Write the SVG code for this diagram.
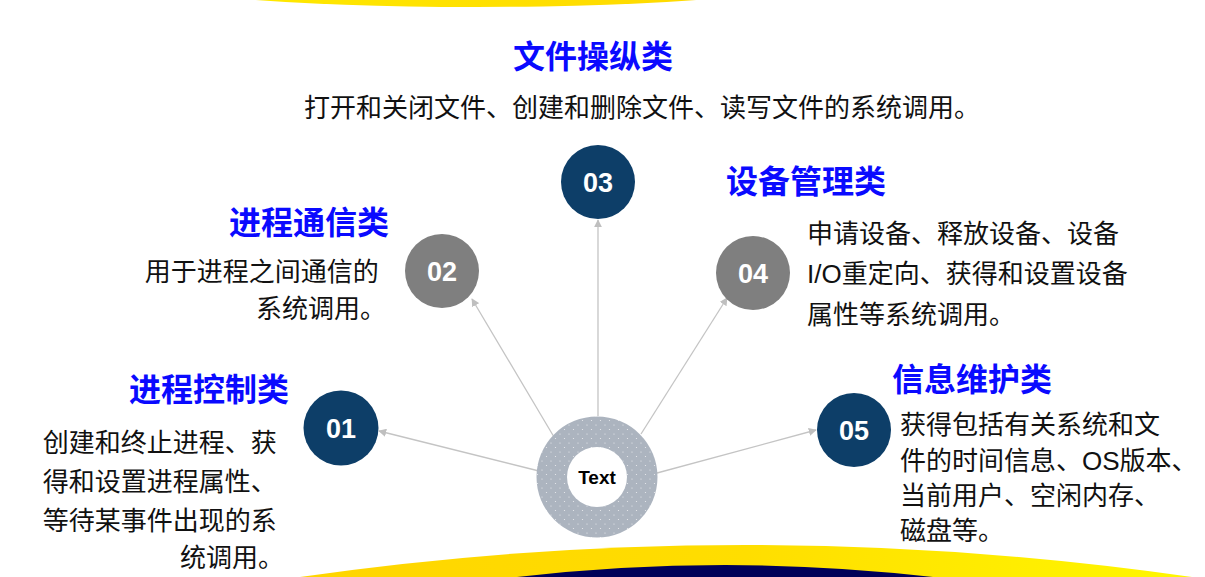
<svg xmlns="http://www.w3.org/2000/svg" width="1205" height="577" viewBox="0 0 1205 577">
<defs>
  <linearGradient id="gTop" x1="0" y1="0" x2="1" y2="0">
    <stop offset="0" stop-color="#ffec00"/>
    <stop offset="1" stop-color="#ffd600"/>
  </linearGradient>
  <linearGradient id="gBot" x1="0" y1="0" x2="1" y2="0">
    <stop offset="0" stop-color="#ffd500"/>
    <stop offset="0.5" stop-color="#ffde00"/>
    <stop offset="1" stop-color="#fff700"/>
  </linearGradient>
  <pattern id="dots" width="9" height="9" patternUnits="userSpaceOnUse">
    <rect width="9" height="9" fill="#acb4bf"/>
    <circle cx="2" cy="2" r="0.6" fill="#ffffff" opacity="0.75"/>
    <circle cx="6.5" cy="6.5" r="0.6" fill="#ffffff" opacity="0.75"/>
  </pattern>
  <marker id="arr" viewBox="0 0 10 10" refX="9" refY="5" markerWidth="8" markerHeight="8" orient="auto" markerUnits="userSpaceOnUse">
    <path d="M0,0 L10,5 L0,10 Z" fill="#bfbfbf"/>
  </marker>
  <style>
    .title{font-family:"Liberation Sans","Noto Sans CJK SC",sans-serif;font-weight:bold;font-size:32px;fill:#0a0aff;}
    .desc{font-family:"Liberation Sans","Noto Sans CJK SC",sans-serif;font-size:26px;fill:#111111;}
    .num{font-family:"Liberation Sans",Arial,sans-serif;font-weight:bold;font-size:27px;fill:#ffffff;text-anchor:middle;}
    .navy{fill:#0d3e68;}
    .grey{fill:#7f7f7f;}
    .conn{stroke:#c4c4c4;stroke-width:1.3;fill:none;marker-end:url(#arr);}
  </style>
</defs>
<rect width="1205" height="577" fill="#ffffff"/>

<g id="decor">
  <ellipse cx="476" cy="-23" rx="343" ry="30" fill="url(#gTop)"/>
  <path d="M300 577 Q 745 513 1192 577 Z" fill="url(#gBot)"/>
  <path d="M517 577 Q 725 553 933 577 Z" fill="#000058"/>
</g>

<g id="connectors">
  <line class="conn" x1="539" y1="471" x2="379" y2="431"/>
  <line class="conn" x1="554" y1="437" x2="472" y2="299"/>
  <line class="conn" x1="598" y1="416" x2="598" y2="220"/>
  <line class="conn" x1="641" y1="434" x2="727" y2="298"/>
  <line class="conn" x1="657" y1="473" x2="816" y2="430"/>
</g>

<g id="center">
  <circle cx="597" cy="477" r="60.5" fill="url(#dots)"/>
  <circle cx="597" cy="477" r="30" fill="#ffffff"/>
  <text x="597" y="484" font-family="Liberation Sans,Arial,sans-serif" font-weight="bold" font-size="19" text-anchor="middle" fill="#000000">Text</text>
</g>

<g id="node01">
  <circle class="navy" cx="341" cy="428" r="37.5"/>
  <text class="num" x="341" y="438">01</text>
  <text class="title" x="289" y="401" text-anchor="end">进程控制类</text>
  <text class="desc" text-anchor="end">
    <tspan x="284" y="452">创建和终止进程、获</tspan>
    <tspan x="284" y="491">得和设置进程属性、</tspan>
    <tspan x="284" y="530">等待某事件出现的系</tspan>
    <tspan x="284" y="567">统调用。</tspan>
  </text>
</g>

<g id="node02">
  <circle class="grey" cx="442" cy="271" r="37"/>
  <text class="num" x="442" y="281">02</text>
  <text class="title" x="389" y="234" text-anchor="end">进程通信类</text>
  <text class="desc" text-anchor="end">
    <tspan x="386" y="281">用于进程之间通信的</tspan>
    <tspan x="386" y="318">系统调用。</tspan>
  </text>
</g>

<g id="node03">
  <circle class="navy" cx="598" cy="182" r="37"/>
  <text class="num" x="598" y="192">03</text>
  <text class="title" x="593" y="68" text-anchor="middle">文件操纵类</text>
  <text class="desc" x="642" y="117" text-anchor="middle">打开和关闭文件、创建和删除文件、读写文件的系统调用。</text>
</g>

<g id="node04">
  <circle class="grey" cx="753" cy="273" r="37"/>
  <text class="num" x="753" y="283">04</text>
  <text class="title" x="726" y="193">设备管理类</text>
  <text class="desc">
    <tspan x="807" y="243">申请设备、释放设备、设备</tspan>
    <tspan x="807" y="283">I/O重定向、获得和设置设备</tspan>
    <tspan x="807" y="324">属性等系统调用。</tspan>
  </text>
</g>

<g id="node05">
  <circle class="navy" cx="854" cy="430" r="37"/>
  <text class="num" x="854" y="440">05</text>
  <text class="title" x="892" y="391">信息维护类</text>
  <text class="desc">
    <tspan x="900" y="434">获得包括有关系统和文</tspan>
    <tspan x="900" y="470">件的时间信息、OS版本、</tspan>
    <tspan x="900" y="505">当前用户、空闲内存、</tspan>
    <tspan x="900" y="540">磁盘等。</tspan>
  </text>
</g>
</svg>
